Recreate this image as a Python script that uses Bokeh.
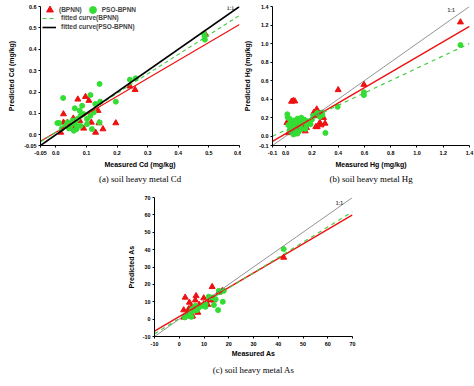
from bokeh.plotting import figure
from bokeh.models import Range1d, FixedTicker, Legend, LegendItem, Title, Spacer, Label
from bokeh.layouts import column, row
from bokeh.embed import file_html
from bokeh.resources import INLINE

# ---------------- data ----------------
# (a) Cd
cd_bpnn_meas = [0.025, 0.072, 0.097, 0.108, 0.138, 0.116, 0.141, 0.130, 0.154, 0.196, 0.091,
                0.059, 0.025, 0.038, 0.057, 0.242, 0.259, 0.016, 0.078, 0.048, 0.489]
cd_bpnn_pred = [0.097, 0.166, 0.178, 0.160, 0.113, 0.058, 0.055, 0.011, 0.027, 0.055, 0.030,
                0.027, 0.058, 0.058, 0.077, 0.227, 0.211, 0.011, 0.066, 0.045, 0.469]
cd_pso_meas = [0.024, 0.143, 0.113, 0.062, 0.086, 0.129, 0.145, 0.196, 0.242, 0.261, 0.011,
               0.038, 0.048, 0.054, 0.065, 0.070, 0.081, 0.091, 0.102, 0.081, 0.059, 0.043,
               0.113, 0.124, 0.143, 0.118, 0.068, 0.102, 0.032, 0.078, 0.484, 0.486, 0.487,
               0.005, 0.020]
cd_pso_pred = [0.172, 0.238, 0.186, 0.124, 0.136, 0.144, 0.155, 0.155, 0.258, 0.264, 0.055,
               0.058, 0.042, 0.066, 0.050, 0.074, 0.089, 0.097, 0.074, 0.042, 0.019, 0.030,
               0.089, 0.105, 0.058, 0.027, 0.027, 0.050, 0.042, 0.113, 0.473, 0.458, 0.445,
               0.055, 0.030]
cd_red_fit = [0.84, 0.012]      # slope, intercept
cd_green_fit = [0.91, 0.012]

# (b) Hg
hg_bpnn_meas = [1.331, 0.400, 0.596, 0.045, 0.058, 0.070, 0.237, 0.220, 0.288, 0.270, 0.300,
                0.230, 0.149, 0.136, 0.073, 0.110, 0.023, 0.078, 0.160, 0.098, 0.010, 0.260,
                0.240, 0.159, 0.063, 0.088, 0.214]
hg_bpnn_pred = [1.231, 0.500, 0.557, 0.375, 0.383, 0.378, 0.291, 0.219, 0.200, 0.120, 0.138,
                0.102, 0.055, 0.091, 0.091, 0.128, 0.036, 0.025, 0.146, 0.073, 0.146, 0.146,
                0.100, 0.091, 0.073, 0.091, 0.255]
hg_pso_meas = [1.331, 0.596, 0.596, 0.396, 0.303, 0.013, 0.015, 0.030, 0.020, 0.040, 0.050,
               0.060, 0.070, 0.080, 0.090, 0.100, 0.110, 0.120, 0.130, 0.140, 0.150, 0.170,
               0.180, 0.200, 0.210, 0.240, 0.250, 0.260, 0.275, 0.280, 0.050, 0.060, 0.030,
               0.100, 0.090, 0.160, 0.120, 0.070, 0.040, 0.150, 0.190]
hg_pso_pred = [0.984, 0.474, 0.444, 0.317, 0.036, 0.237, 0.205, 0.190, 0.120, 0.150, 0.100,
               0.170, 0.130, 0.060, 0.190, 0.160, 0.120, 0.080, 0.150, 0.180, 0.170, 0.160,
               0.140, 0.180, 0.220, 0.250, 0.240, 0.210, 0.255, 0.230, 0.040, 0.020, 0.060,
               0.050, 0.030, 0.120, 0.200, 0.090, 0.080, 0.080, 0.130]
hg_red_fit = [0.826, 0.028]
hg_green_fit = [0.667, 0.067]

# (c) As
as_bpnn_meas = [42.2, 13.3, 2.4, 6.5, 6.8, 4.1, 9.9, 12.6, 14.0, 11.5, 9.9, 7.5, 5.4, 1.8,
                1.8, 4.9, 8.1, 16.0, 17.4, 3.1, 3.8, 5.0]
as_bpnn_pred = [35.5, 18.6, 12.5, 10.9, 13.4, 9.6, 12.1, 10.9, 10.9, 8.3, 8.6, 3.8, 1.7, 1.0,
                5.2, 7.1, 8.3, 15.4, 16.3, 2.9, 5.8, 1.5]
as_pso_meas = [42.2, 17.6, 15.7, 14.0, 18.0, 16.7, 11.9, 13.3, 9.2, 10.6, 7.9, 6.5, 5.2, 4.5,
               3.1, 2.2, 5.8, 3.8, 7.2, 4.9, 10.6, 14.7, 16.0]
as_pso_pred = [40.3, 10.0, 5.2, 8.1, 16.3, 15.7, 12.9, 12.5, 7.7, 8.6, 6.7, 7.7, 5.8, 3.8,
               1.9, 1.0, 4.8, 2.9, 5.2, 1.3, 7.1, 11.5, 16.3]
as_red_fit = [0.835, 1.5]
as_green_fit = [0.879, 0.3]

cd_ticks = [-0.05, 0.0, 0.1, 0.2, 0.3, 0.4, 0.5, 0.6]
cd_tick_labels = ["-0.05", "0.0", "0.1", "0.2", "0.3", "0.4", "0.5", "0.6"]
hg_ticks = [-0.1, 0.0, 0.2, 0.4, 0.6, 0.8, 1.0, 1.2, 1.4]
hg_tick_labels = ["-0.1", "0.0", "0.2", "0.4", "0.6", "0.8", "1.0", "1.2", "1.4"]
as_ticks = [-10, 0, 10, 20, 30, 40, 50, 60, 70]
as_tick_labels = ["-10", "0", "10", "20", "30", "40", "50", "60", "70"]

RED = "#ee1111"
GREEN = "#33dd33"
GREEN_LINE = "#44cc44"
SANS = "Liberation Sans"
SERIF = "Liberation Serif"


def panel(rng, ticks, labels, xlabel, ylabel, caption, fw, fh, bl, br, bt, bb,
          ylab_std, xlab_std, cap_std):
    p = figure(frame_width=fw, frame_height=fh, x_range=Range1d(*rng), y_range=Range1d(*rng),
               output_backend="svg", toolbar_location=None,
               min_border_left=bl, min_border_right=br, min_border_top=bt, min_border_bottom=bb)
    p.grid.visible = False
    p.outline_line_color = None
    for ax, lab in ((p.xaxis[0], xlabel), (p.yaxis[0], ylabel)):
        ax.ticker = FixedTicker(ticks=ticks)
        ax.major_label_overrides = {t: l for t, l in zip(ticks, labels)}
        ax.axis_label = lab
        ax.axis_line_color = "black"
        ax.axis_line_width = 1
        ax.major_tick_line_color = "black"
        ax.major_tick_out = 2
        ax.major_tick_in = 0
        ax.minor_tick_out = 0
        ax.minor_tick_in = 0
        ax.major_label_text_font = SANS
        ax.major_label_text_font_style = "bold"
        ax.major_label_text_font_size = "5.4px"
        ax.major_label_text_color = "black"
        ax.axis_label_text_font = SANS
        ax.axis_label_text_font_style = "bold"
        ax.axis_label_text_font_size = "7px"
        ax.axis_label_text_color = "black"
    p.xaxis[0].major_label_standoff = 3
    p.xaxis[0].axis_label_standoff = xlab_std
    p.yaxis[0].major_label_standoff = 2
    p.yaxis[0].axis_label_standoff = ylab_std
    p.add_layout(Title(text=caption, align="center", text_font=SERIF, text_font_size="8.8px",
                       text_font_style="normal", text_color="black", standoff=cap_std), "below")
    return p


def fit_line(p, rng, fit, **kw):
    xs = list(rng)
    ys = [fit[0] * x + fit[1] for x in xs]
    return p.line(xs, ys, **kw)


# ---------------- (a) Cd ----------------
FH1 = 139
cd_rng = (-0.05, 0.6)
pa = panel(cd_rng, cd_ticks, cd_tick_labels, "Measured Cd (mg/kg)", "Predicted Cd (mg/kg)",
           "(a) soil heavy metal Cd", 199, FH1, 40, 2, 6, 40, 6, 3, 2)
ra_tri = pa.scatter(cd_bpnn_meas, cd_bpnn_pred, marker="triangle", size=6,
                    fill_color=RED, line_color=RED)
ra_cir = pa.scatter(cd_pso_meas, cd_pso_pred, marker="circle", size=5,
                    fill_color=GREEN, line_color=GREEN)
fit_line(pa, cd_rng, cd_red_fit, line_color=RED, line_width=1.2)
ra_gfit = fit_line(pa, cd_rng, cd_green_fit, line_color=GREEN_LINE, line_width=1.1, line_dash="4 3")
ra_one = pa.line(list(cd_rng), list(cd_rng), line_color="black", line_width=1.6)
pa.add_layout(Label(x=0.57, y=0.592, text="1:1", text_font=SANS, text_font_size="5px",
                    text_font_style="bold", text_align="center", text_baseline="middle"))
leg1 = Legend(items=[LegendItem(label="(BPNN)", renderers=[ra_tri]),
                     LegendItem(label="PSO-BPNN", renderers=[ra_cir])],
              orientation="horizontal", location=(1, FH1 - 12),
              glyph_width=17, glyph_height=17, label_height=17, label_width=0,
              label_standoff=1, spacing=2, padding=0, margin=0,
              border_line_color=None, background_fill_alpha=0,
              label_text_font=SANS, label_text_font_size="6.5px", label_text_font_style="bold")
leg2 = Legend(items=[LegendItem(label="fitted curve(BPNN)", renderers=[ra_gfit]),
                     LegendItem(label="fitted curve(PSO-BPNN)", renderers=[ra_one])],
              orientation="vertical", location=(2, FH1 - 24),
              glyph_width=14, glyph_height=6, label_height=6, label_width=0,
              label_standoff=5, spacing=2, padding=0, margin=0,
              border_line_color=None, background_fill_alpha=0,
              label_text_font=SANS, label_text_font_size="6.5px", label_text_font_style="bold")
pa.add_layout(leg1)
pa.add_layout(leg2)

# ---------------- (b) Hg ----------------
hg_rng = (-0.1, 1.4)
pb = panel(hg_rng, hg_ticks, hg_tick_labels, "Measured Hg (mg/kg)", "Predicted Hg (mg/kg)",
           "(b) soil heavy metal Hg", 197, FH1, 27, 7, 6, 40, 5, 3, 2)
pb.scatter(hg_bpnn_meas, hg_bpnn_pred, marker="triangle", size=6, fill_color=RED, line_color=RED)
pb.scatter(hg_pso_meas, hg_pso_pred, marker="circle", size=5, fill_color=GREEN, line_color=GREEN)
pb.line(list(hg_rng), list(hg_rng), line_color="#777777", line_width=0.8)
fit_line(pb, hg_rng, hg_red_fit, line_color=RED, line_width=1.4)
fit_line(pb, hg_rng, hg_green_fit, line_color=GREEN_LINE, line_width=1.2, line_dash="4 4")
pb.add_layout(Label(x=1.26, y=1.366, text="1:1", text_font=SANS, text_font_size="5px",
                    text_font_style="bold", text_align="center", text_baseline="middle"))

# ---------------- (c) As ----------------
as_rng = (-10, 70)
pc = panel(as_rng, as_ticks, as_tick_labels, "Measured As", "Predicted As",
           "(c) soil heavy metal As", 198, 139, 29, 8, 12, 45, 5, 1, 7)
pc.scatter(as_bpnn_meas, as_bpnn_pred, marker="triangle", size=6, fill_color=RED, line_color=RED)
pc.scatter(as_pso_meas, as_pso_pred, marker="circle", size=5, fill_color=GREEN, line_color=GREEN)
pc.line(list(as_rng), list(as_rng), line_color="#777777", line_width=0.8)
fit_line(pc, as_rng, as_red_fit, line_color=RED, line_width=1.4)
fit_line(pc, as_rng, as_green_fit, line_color=GREEN_LINE, line_width=1.2, line_dash="4 4")
pc.add_layout(Label(x=64.7, y=66.7, text="1:1", text_font=SANS, text_font_size="5px",
                    text_font_style="bold", text_align="center", text_baseline="middle"))

layout = column(row(pa, pb), row(Spacer(width=124, height=1), pc))
open("out.html", "w").write(file_html(layout, INLINE))
